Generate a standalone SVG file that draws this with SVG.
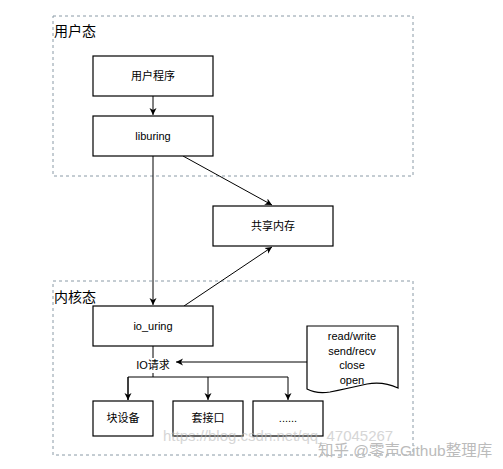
<svg xmlns="http://www.w3.org/2000/svg" width="503" height="469" viewBox="0 0 503 469">
<style>
.zone{fill:none;stroke:#8a9aa6;stroke-width:1;stroke-dasharray:3,3}
.box{fill:#fff;stroke:#000;stroke-width:1.2}
.t{font-family:"Liberation Sans","Noto Sans CJK SC",sans-serif;font-size:11px;fill:#000;text-anchor:middle}
.zl{font-family:"Liberation Sans","Noto Sans CJK SC",sans-serif;font-size:14px;fill:#000}
.c{fill:none;stroke:#000;stroke-width:1}
.wm{font-family:"Liberation Sans","Noto Sans CJK SC",sans-serif;fill:#bbb}
</style>
<defs>
<marker id="a" markerWidth="8" markerHeight="8" refX="7" refY="4" orient="auto" markerUnits="userSpaceOnUse">
<path d="M0,0.5 L7,4 L0,7.5 L2,4 Z" fill="#000"/>
</marker>
</defs>
<rect width="503" height="469" fill="#fff"/>
<g id="user-zone">
<rect class="zone" x="53" y="16" width="360" height="160"/>
<text class="zl" x="54" y="36">用户态</text>
</g>
<g id="kernel-zone">
<rect class="zone" x="53" y="281" width="360" height="174"/>
<text class="zl" x="54" y="302">内核态</text>
</g>
<g id="connectors">
<line class="c" x1="153" y1="96" x2="153" y2="115" marker-end="url(#a)"/>
<line class="c" x1="153" y1="156" x2="153" y2="305" marker-end="url(#a)"/>
<line class="c" x1="183" y1="156" x2="272" y2="205" marker-end="url(#a)"/>
<line class="c" x1="184" y1="306" x2="272" y2="247" marker-end="url(#a)"/>
<line class="c" x1="153" y1="346" x2="153" y2="358"/>
<line class="c" x1="153" y1="373" x2="153" y2="377"/>
<polyline class="c" points="128,400 128,377 288,377 288,400" marker-end="url(#a)"/>
<line class="c" x1="128" y1="377" x2="128" y2="400" marker-end="url(#a)"/>
<line class="c" x1="208" y1="377" x2="208" y2="400" marker-end="url(#a)"/>
<line class="c" x1="307" y1="362" x2="176" y2="362" marker-end="url(#a)"/>
<text class="t" x="153" y="369" font-size="10.5">IO请求</text>
</g>
<g id="user-program">
<rect class="box" x="93" y="56" width="120" height="40"/>
<text class="t" x="153" y="80">用户程序</text>
</g>
<g id="liburing">
<rect class="box" x="93" y="116" width="120" height="40"/>
<text class="t" x="153" y="140">liburing</text>
</g>
<g id="shared-memory">
<rect class="box" x="213" y="206" width="120" height="40"/>
<text class="t" x="273" y="230">共享内存</text>
</g>
<g id="io-uring">
<rect class="box" x="93" y="306" width="120" height="40"/>
<text class="t" x="153" y="330">io_uring</text>
</g>
<g id="ops-doc">
<path class="box" d="M307,326 L398,326 L398,388 Q383,381 367,384 Q345,389 330,392 Q316,394 307,389 Z"/>
<text class="t" x="352" y="340">read/write</text>
<text class="t" x="352" y="355">send/recv</text>
<text class="t" x="352" y="369">close</text>
<text class="t" x="352" y="384">open</text>
</g>
<g id="block-device">
<rect class="box" x="93" y="401" width="60" height="35"/>
<text class="t" x="123" y="422">块设备</text>
</g>
<g id="socket">
<rect class="box" x="173" y="401" width="70" height="35"/>
<text class="t" x="208" y="422">套接口</text>
</g>
<g id="more">
<rect class="box" x="253" y="401" width="70" height="35"/>
<text class="t" x="288" y="422">......</text>
</g>
<g id="watermark">
<text class="wm" x="163" y="441" font-size="15" opacity="0.6">https://blog.csdn.net/qq_47045267</text>
<text class="wm" x="318" y="456" font-size="15.5" fill="#aaa">知乎 @零声Github整理库</text>
</g>
</svg>
